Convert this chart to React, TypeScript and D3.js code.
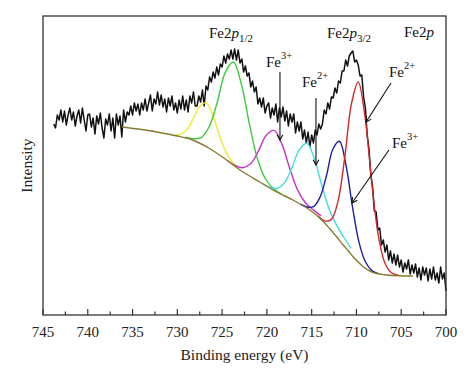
import React from 'react';
import * as d3 from 'd3';

const xTicks = [745, 740, 735, 730, 725, 720, 715, 710, 705, 700];
const xMinorTicks = [742.5, 737.5, 732.5, 727.5, 722.5, 717.5, 712.5, 707.5, 702.5];

// Raw spectrum, binding energy from 743.8 eV down in 0.2 eV steps
const specStart = 743.8;
const specStep = 0.2;
const spectrum = [
  191, 187, 200, 195, 205, 193, 204, 190, 200, 207,
  195, 203, 189, 199, 205, 192, 207, 195, 184, 200,
  201, 188, 197, 181, 199, 191, 202, 187, 177, 196,
  190, 201, 184, 197, 177, 201, 190, 199, 178, 205,
  193, 203, 200, 209, 200, 212, 204, 211, 200, 212,
  205, 216, 204, 212, 220, 204, 216, 211, 223, 210,
  220, 208, 216, 203, 217, 209, 219, 205, 212, 202,
  215, 206, 219, 205, 215, 203, 219, 212, 223, 209,
  209, 219, 213, 225, 209, 229, 225, 238, 233, 243,
  237, 248, 240, 251, 248, 259, 252, 261, 256, 265,
  256, 266, 255, 265, 252, 256, 243, 249, 239, 242,
  228, 234, 223, 228, 211, 217, 208, 217, 202, 209,
  212, 197, 207, 200, 211, 193, 207, 198, 208, 194,
  204, 189, 201, 193, 201, 182, 193, 184, 193, 176,
  185, 172, 183, 168, 180, 172, 185, 180, 191, 186,
  191, 205, 201, 212, 206, 218, 217, 227, 222, 234,
  232, 244, 244, 255, 249, 259, 262, 264, 253, 255,
  250, 239, 240, 218, 207, 180, 166, 141, 128, 104,
  103, 85, 87, 70, 75, 63, 70, 55, 64, 52,
  61, 50, 60, 48, 55, 43, 52, 46, 55, 41,
  50, 42, 51, 38, 47, 35, 48, 40, 47, 34,
  46, 36, 48, 35, 42, 32, 48, 36, 42, 24,
];

const background: [number, number][] = [
  [736.2, 188], [734, 185.5], [732, 182.5], [730, 179], [728.3, 175], [726.5, 167],
  [724.5, 155], [723, 145], [720.8, 133], [718.9, 123], [717.1, 115], [715.2, 105],
  [714.1, 97], [712.95, 86], [712.2, 78], [711.47, 70], [710.9, 64], [710.35, 58],
  [709.8, 53], [709.2, 48], [708.5, 44], [707.75, 41.5], [706.8, 40.2], [705.9, 39.5],
  [704.5, 39], [703.7, 39],
];

const yellowFit: [number, number][] = [
  [730.3, 180], [729.6, 180.9], [728.9, 185.6], [728.2, 196.6], [727.5, 208.4], [726.8, 212.3],
  [726.1, 201.6], [725.4, 182.4], [724.7, 165.4], [724.0, 154.5], [723.3, 147.6],
];
const greenFit: [number, number][] = [
  [729.15, 177.7], [728.25, 176.2], [727.35, 177.4], [726.45, 188.3], [725.55, 212.5],
  [724.65, 242.6], [723.75, 253], [722.85, 230.8], [721.95, 190.8], [721.05, 156],
  [720.15, 136], [719.25, 126.2], [718.35, 120.8],
];
const magentaFit: [number, number][] = [
  [724.45, 154.8], [723.575, 149.6], [722.7, 147.2], [721.825, 151.2], [720.95, 163.8],
  [720.075, 179.7], [719.2, 184.6], [718.325, 170.9], [717.45, 146.6], [716.575, 125.1],
  [715.7, 112.2], [714.825, 105.1], [713.95, 99.1],
];
const cyanFit: [number, number][] = [
  [720.5, 131.5], [719.675, 127.8], [718.85, 126.8], [718.025, 132.4], [717.2, 147.4],
  [716.375, 165.4], [715.55, 171.7], [714.725, 157.2], [713.9, 130.6], [713.075, 106.6],
  [712.25, 90.4], [711.425, 78.0], [710.6, 66.6],
];
const blueFit: [number, number][] = [
  [716.25, 110.8], [715.525, 108.0], [714.8, 108.3], [714.075, 117.6], [713.35, 139.3],
  [712.625, 166.0], [711.9, 173.7], [711.175, 150.2], [710.45, 108.6], [709.725, 73.2],
  [709.0, 53.2], [708.275, 44.4], [707.55, 41.4],
];
const redFit: [number, number][] = [
  [714.3, 98.9], [713.55, 94.1], [712.8, 95.6], [712.05, 114.2], [711.3, 158.2],
  [710.55, 211.6], [709.8, 233], [709.05, 198.5], [708.3, 133.3], [707.55, 79.0],
  [706.8, 51.5], [706.05, 42], [705.3, 39.7],
];

const fits = [
  { name: 'yellow', data: yellowFit, color: '#eeea3a' },
  { name: 'green', data: greenFit, color: '#3ccc3c' },
  { name: 'magenta', data: magentaFit, color: '#c832c8' },
  { name: 'cyan', data: cyanFit, color: '#3ee0dc' },
  { name: 'blue', data: blueFit, color: '#1e1ea8' },
  { name: 'red', data: redFit, color: '#d22828' },
];

// annotation arrows: [fromE, fromV, toE, toV]
const arrows: [number, number, number, number][] = [
  [718.54, 243, 718.54, 175],
  [714.52, 217, 714.52, 150],
  [706.14, 232, 708.93, 193],
  [706.37, 165, 710.5, 112],
];
// ion labels: [E, V, base, sup]
const ionLabels: [number, number, string, string][] = [
  [720.1, 248, 'Fe', '3+'],
  [716.08, 228, 'Fe', '2+'],
  [706.37, 238, 'Fe', '2+'],
  [706.03, 167, 'Fe', '3+'],
];
// peak labels: [E, V, base, italic, sub]
const peakLabels: [number, number, string, string, string][] = [
  [726.46, 277, 'Fe2', 'p', '1/2'],
  [713.29, 277, 'Fe2', 'p', '3/2'],
  [704.69, 278, 'Fe2', 'p', ''],
];

const W = 474;
const H = 383;
const FONT = "'Liberation Serif', 'Times New Roman', serif";

export default function App() {
  const x = d3.scaleLinear().domain([745, 700]).range([43, 446]);
  const y = d3.scaleLinear().domain([0, 299]).range([315, 16]);

  const specLine = d3
    .line<number>()
    .x((_, i) => x(specStart - i * specStep))
    .y((d) => y(d));
  const fitLine = d3
    .line<[number, number]>()
    .x((d) => x(d[0]))
    .y((d) => y(d[1]))
    .curve(d3.curveCatmullRom.alpha(0.5));

  const [x0, x1] = x.range();
  const [yb, yt] = y.range();

  const arrowHead = (fx: number, fy: number, tx: number, ty: number) => {
    const a = Math.atan2(ty - fy, tx - fx);
    const L = 6;
    const th = 0.5;
    const p1 = [tx - L * Math.cos(a - th), ty - L * Math.sin(a - th)];
    const p2 = [tx - L * Math.cos(a + th), ty - L * Math.sin(a + th)];
    return `M${p1[0]},${p1[1]}L${tx},${ty}L${p2[0]},${p2[1]}`;
  };

  const txt = { fontFamily: FONT };

  return (
    <svg
      width={W}
      height={H}
      style={{ position: 'absolute', left: 0, top: 0, background: '#fff' }}
    >
      <rect x={0} y={0} width={W} height={H} fill="#fff" />
      <path d={specLine(spectrum) || ''} fill="none" stroke="#111" strokeWidth={1.5} strokeLinejoin="round" />
      {fits.map((f) => (
        <path key={f.name} d={fitLine(f.data) || ''} fill="none" stroke={f.color} strokeWidth={1.4} />
      ))}
      <path d={fitLine(background) || ''} fill="none" stroke="#877a2c" strokeWidth={1.4} />

      {/* frame */}
      <rect x={x0} y={yt} width={x1 - x0} height={yb - yt} fill="none" stroke="#333" strokeWidth={1.3} />
      {xTicks.map((t) => (
        <g key={t}>
          <line x1={x(t)} x2={x(t)} y1={yb} y2={yb - 6} stroke="#333" strokeWidth={1.2} />
          <text x={x(t)} y={yb + 22} textAnchor="middle" fontSize={15} fill="#222" style={txt}>
            {t}
          </text>
        </g>
      ))}
      {xMinorTicks.map((t) => (
        <line key={t} x1={x(t)} x2={x(t)} y1={yb} y2={yb - 3.5} stroke="#333" strokeWidth={1.2} />
      ))}
      <text x={(x0 + x1) / 2} y={360} textAnchor="middle" fontSize={15.5} fill="#222" style={txt}>
        Binding energy (eV)
      </text>
      <text
        transform={`translate(32, ${(yt + yb) / 2}) rotate(-90)`}
        textAnchor="middle"
        fontSize={15.5}
        fill="#222"
        style={txt}
      >
        Intensity
      </text>

      {arrows.map((a, i) => {
        const fx = x(a[0]);
        const fy = y(a[1]);
        const tx = x(a[2]);
        const ty = y(a[3]);
        return (
          <g key={i} stroke="#111" strokeWidth={1.1} fill="none">
            <line x1={fx} y1={fy} x2={tx} y2={ty} />
            <path d={arrowHead(fx, fy, tx, ty)} />
          </g>
        );
      })}
      {ionLabels.map((l, i) => (
        <text key={i} x={x(l[0])} y={y(l[1])} fontSize={15} fill="#111" style={txt}>
          {l[2]}
          <tspan fontSize={10.5} dy={-8}>
            {l[3]}
          </tspan>
        </text>
      ))}
      {peakLabels.map((l, i) => (
        <text key={i} x={x(l[0])} y={y(l[1])} fontSize={15} fill="#111" style={txt}>
          {l[2]}
          <tspan fontStyle="italic">{l[3]}</tspan>
          {l[4] ? (
            <tspan fontSize={11} dy={4}>
              {l[4]}
            </tspan>
          ) : null}
        </text>
      ))}
    </svg>
  );
}
